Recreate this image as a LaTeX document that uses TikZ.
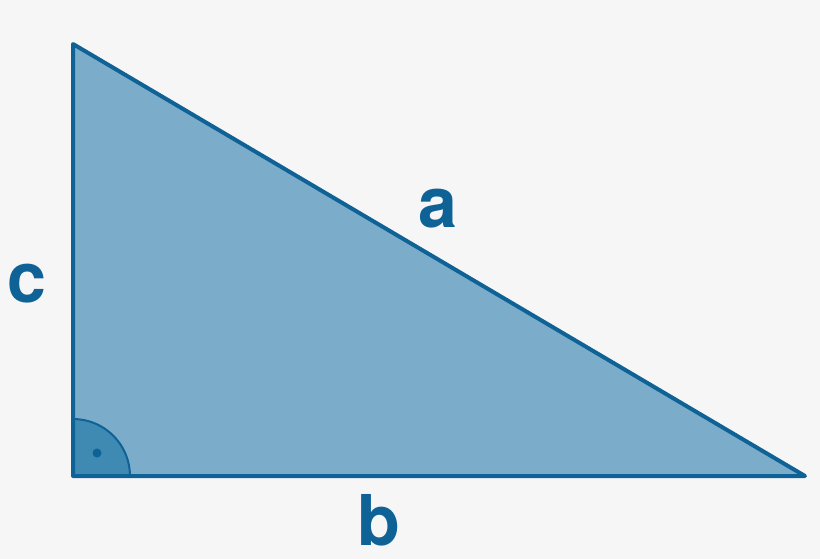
\documentclass[tikz,border=0pt]{standalone}
\usepackage{fontspec}
\setmainfont{TeX Gyre Heros}
\definecolor{bgray}{HTML}{F6F6F6}
\definecolor{edgeblue}{HTML}{0F6296}
\definecolor{faceblue}{HTML}{7BADCA}
\definecolor{angleblue}{HTML}{3F8AB2}
\begin{document}
\begin{tikzpicture}[x=1pt, y=-1pt]
    \tikzstyle{side} = [text=edgeblue, font=\fontsize{70}{70}\selectfont\bfseries, inner sep=0pt, anchor=base]
    \tikzstyle{edge} = [draw=edgeblue, line width=4pt, line join=round]

    \fill [bgray] (0,0) rectangle (820,559);
    \useasboundingbox (0,0) rectangle (820,559);

    \coordinate (C) at (73,476);
    \coordinate (A) at (73,44);
    \coordinate (B) at (805,476);

    \fill [faceblue] (A) -- (B) -- (C) -- cycle;
    % right angle
    \filldraw [fill=angleblue, draw=edgeblue, line width=2pt] (C) -- ++(57,0) arc (0:90:57 and -57) -- cycle;
    \fill [edgeblue] (97,453) circle (4.5);
    \draw [edge] (A) -- (B) -- (C) -- cycle;

    \node [side] (a) at (438,227) {a};
    \node [side] (b) at (379,545) {b};
    \node [side] (c) at (27,302) {c};
\end{tikzpicture}
\end{document}
